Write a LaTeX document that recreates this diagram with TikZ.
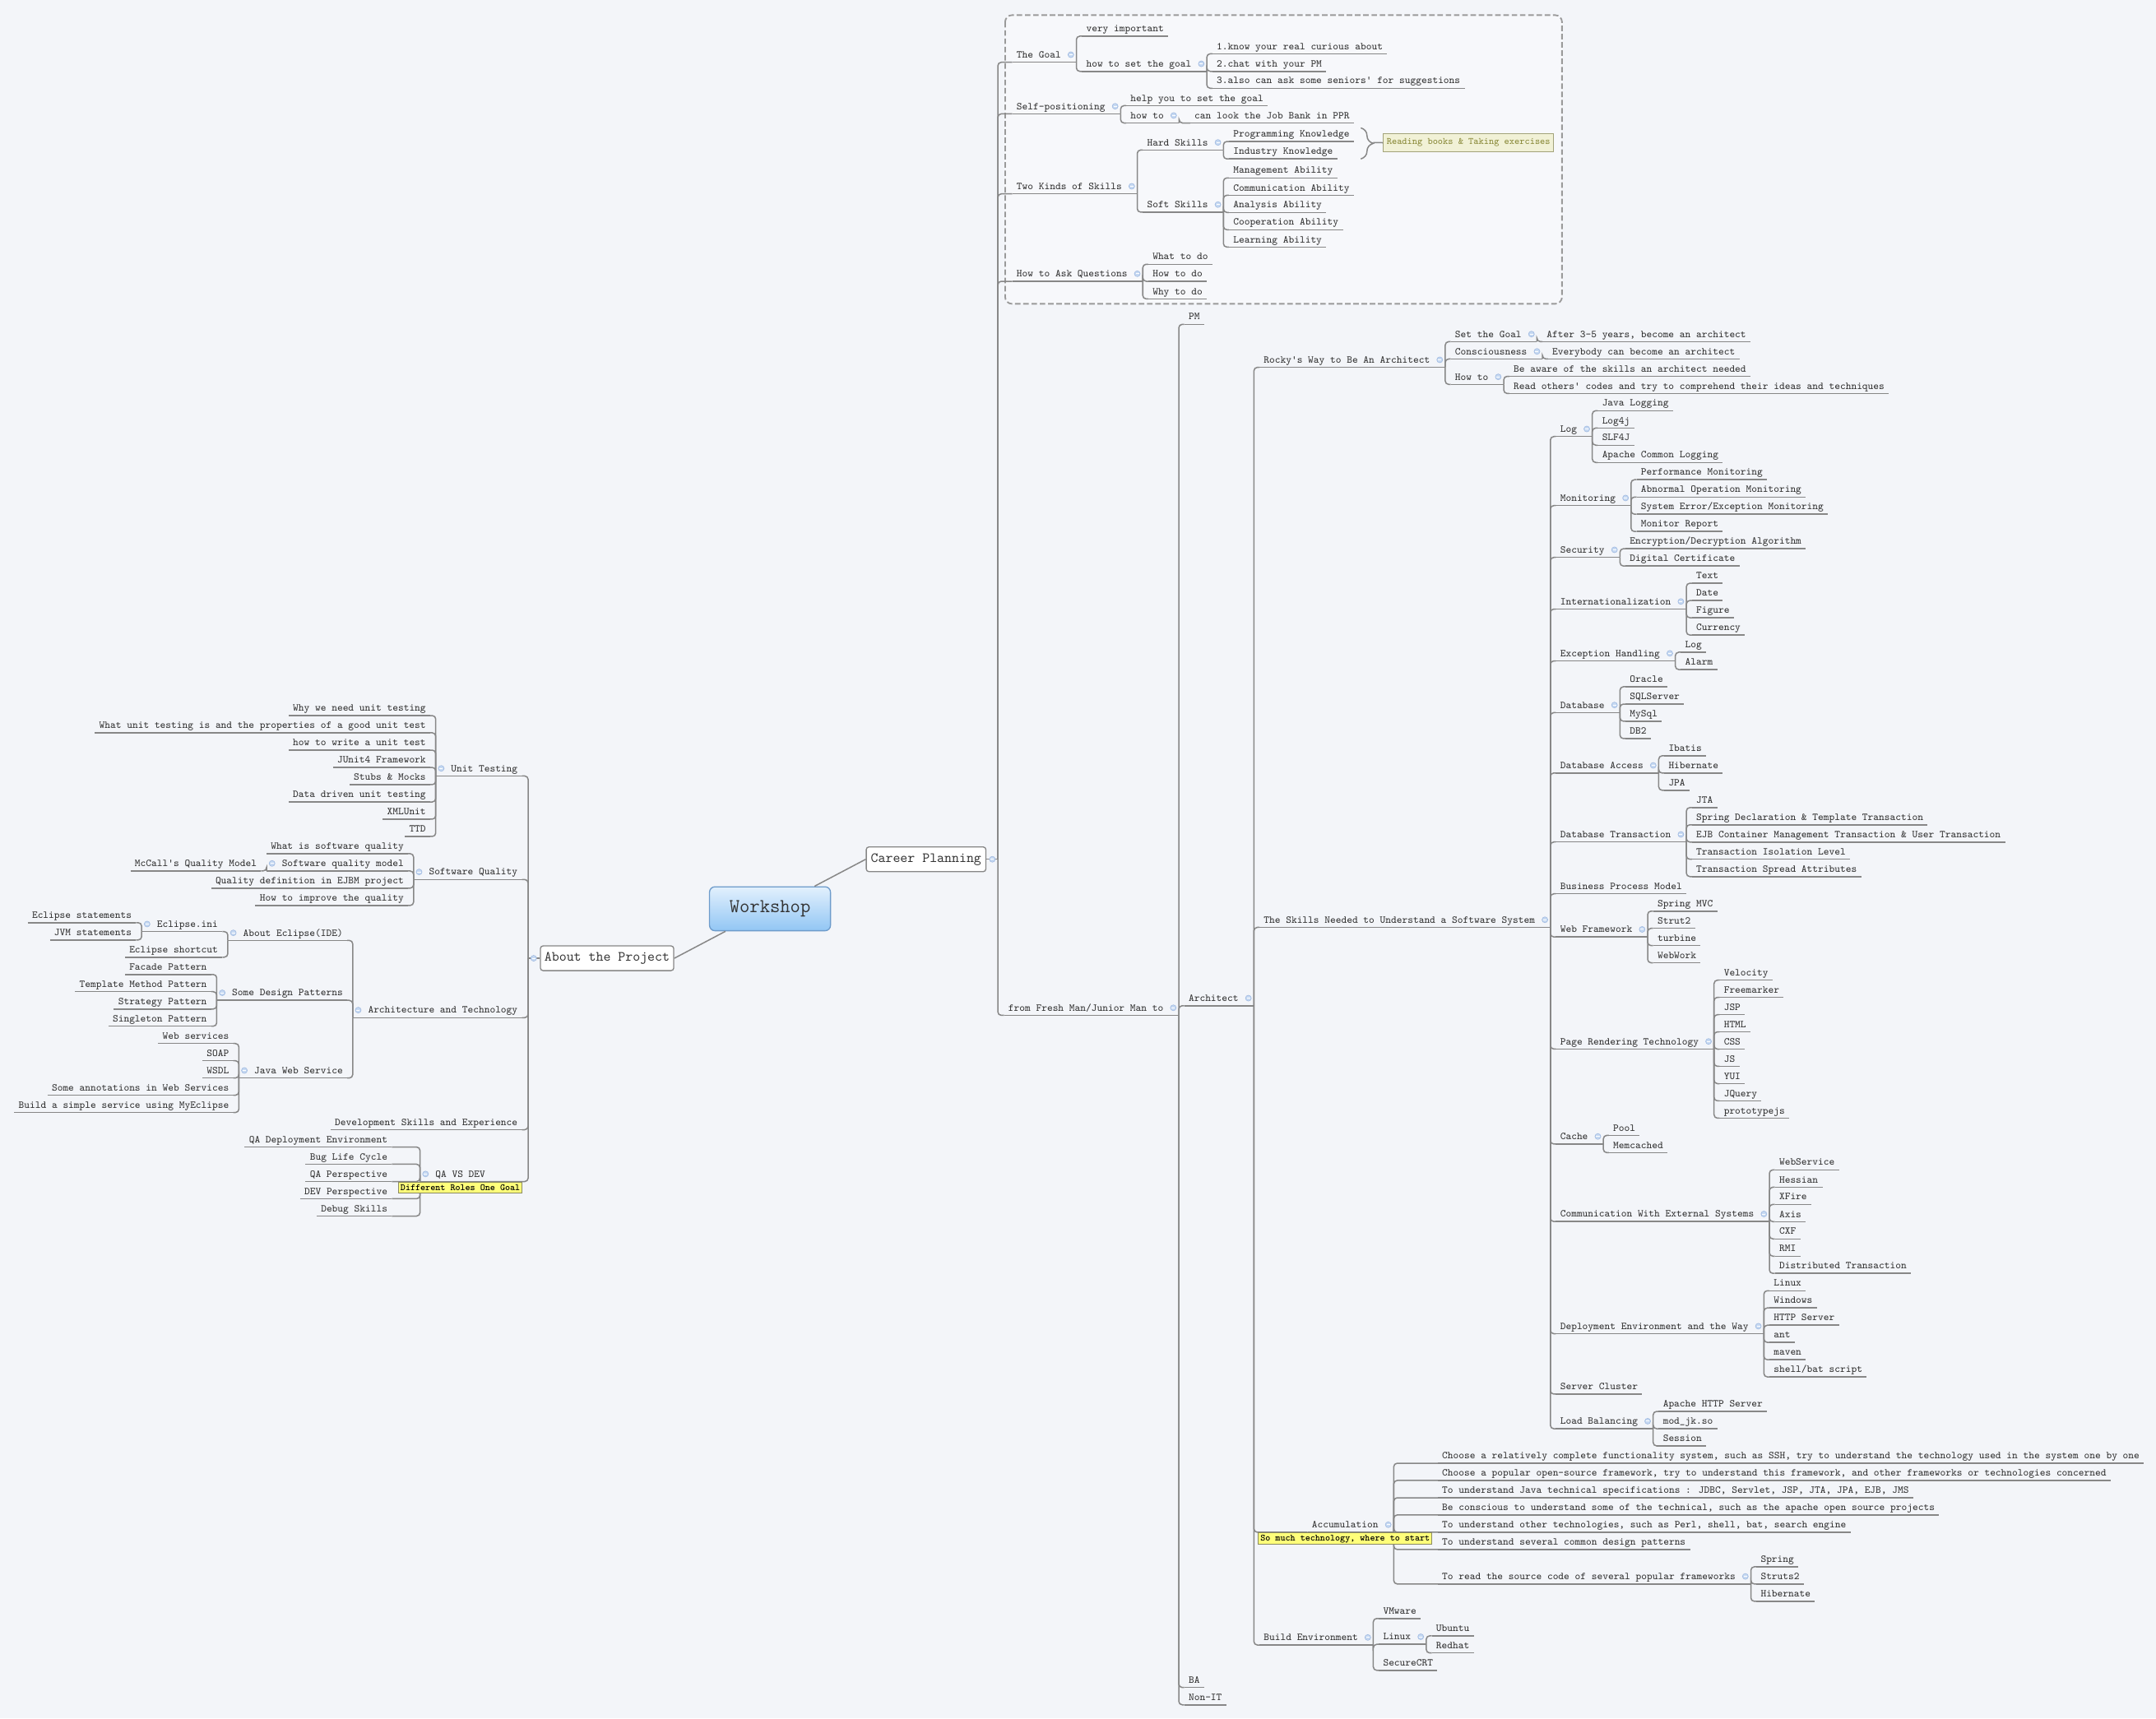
\documentclass[tikz,border=0pt]{standalone}
\usepackage{fontspec}
\usetikzlibrary{decorations.pathreplacing}

\definecolor{paper}{HTML}{F3F5F9}
\definecolor{ink}{HTML}{333333}
\definecolor{wire}{HTML}{878787}
\definecolor{knobfill}{HTML}{C6D9F2}
\definecolor{knobline}{HTML}{A3BCE2}
\definecolor{hubtop}{HTML}{E2F0FD}
\definecolor{hubbot}{HTML}{92C6F4}
\definecolor{hubline}{HTML}{6E9CCB}
\definecolor{zoneline}{HTML}{9A9A9A}
\definecolor{zonefill}{HTML}{F7F8FB}
\definecolor{hint}{HTML}{FFFF7A}
\definecolor{hintline}{HTML}{8A8A60}
\definecolor{notefill}{HTML}{F1F1D6}
\definecolor{noteline}{HTML}{A3A37A}
\definecolor{noteink}{HTML}{8A8A3A}

% fold marker and vertical bus of a parent
\newcommand{\foldR}[1]{%
  \coordinate (#1v) at ([xshift=8pt]#1.south east);
  \draw[link] (#1.south east) -- (#1v);
  \node[knob] (#1k) at ([xshift=4pt,yshift=5.5pt]#1.south east) {};}
\newcommand{\foldL}[1]{%
  \coordinate (#1v) at ([xshift=-8pt]#1.south west);
  \draw[link] (#1.south west) -- (#1v);
  \node[knob] (#1k) at ([xshift=-4pt,yshift=5.5pt]#1.south west) {};}
% children hanging on the bus
\newcommand{\kidsR}[3][4pt]{%
  \foreach \n/\y/\txt in {#3}{%
    \node[rt, xshift=#1] (\n) at (#2v |- 0,\y) {\txt};
    \draw[elbow] (#2v) |- (\n.south west);}}
\newcommand{\kidsL}[3][-4pt]{%
  \foreach \n/\y/\txt in {#3}{%
    \node[lt, xshift=#1] (\n) at (#2v |- 0,\y) {\txt};
    \draw[elbow] (#2v) |- (\n.south east);}}

\begin{document}
\begin{tikzpicture}[x=1pt, y=-1pt,
  link/.style={draw=wire, line width=0.9pt},
  elbow/.style={link, rounded corners=2.5pt},
  topic/.style={inner xsep=3pt, inner ysep=1.5pt, text height=5pt, text depth=1.5pt,
    text=ink, font=\fontsize{7.58}{9}\selectfont\ttfamily},
  rt/.style={topic, anchor=south west,
    append after command={(\tikzlastnode.south west) edge[link] (\tikzlastnode.south east)}},
  lt/.style={topic, anchor=south east,
    append after command={(\tikzlastnode.south west) edge[link] (\tikzlastnode.south east)}},
  knob/.style={circle, draw=knobline, fill=knobfill, line width=0.4pt, minimum size=4.2pt, inner sep=0pt,
    path picture={\draw[white, line width=0.6pt] ([xshift=-1.2pt]path picture bounding box.center)
      -- ([xshift=1.2pt]path picture bounding box.center);}},
  box/.style={draw=wire, fill=white, rounded corners=2pt, line width=0.8pt, minimum width=87pt,
    minimum height=18pt, inner sep=0pt, text=ink, font=\fontsize{10.2}{12}\selectfont\ttfamily},
  hub/.style={draw=hubline, top color=hubtop, bottom color=hubbot, rounded corners=4pt, line width=0.8pt,
    minimum width=88pt, minimum height=32pt, inner sep=0pt, text=ink, font=\fontsize{14.3}{16}\selectfont\ttfamily},
  tag/.style={draw=hintline, fill=hint, line width=0.5pt, inner xsep=1.5pt, inner ysep=1pt, text height=5pt,
    text depth=1.3pt, text=black, font=\fontsize{6.9}{8}\selectfont\ttfamily\bfseries},
  zone/.style={draw=zoneline, fill=zonefill, dash pattern=on 4pt off 2pt, line width=1.1pt, rounded corners=5pt},
  note/.style={draw=noteline, fill=notefill, line width=0.7pt, minimum width=124pt, minimum height=13.4pt,
    inner sep=0pt, text=noteink, font=\fontsize{7}{8}\selectfont\ttfamily}]

\fill[paper] (0,0) rectangle (1568,1250);
\useasboundingbox (0,0) rectangle (1568,1250);

% boundary round the first career topics
\draw[zone] (731,11) rectangle (1136,221);

% centre
\node[hub] (ws) at (560,661) {Workshop};
\node[box] (cp) at (673.5,625) {Career Planning};
\node[box, minimum width=97pt] (about) at (441.5,697) {About the Project};
\draw[link] ([xshift=-12pt]ws.north east) -- (cp.west);
\draw[link] ([xshift=12pt]ws.south west) -- (about.east);

%% ---------------- Career Planning ----------------
\coordinate (cpv) at ([xshift=8.3pt]cp.east);
\draw[link] (cp.east) -- (cpv);
\node[knob] (cpk) at ([xshift=4.3pt]cp.east) {};
\kidsR[10.5pt]{cp}{goal/45.3/The Goal, selfpos/82.8/Self-positioning,
  twokinds/141/Two Kinds of Skills, ask/204.6/How to Ask Questions}
\kidsR[4.5pt]{cp}{fresh/738.5/{from Fresh Man/Junior Man to}}

\foldR{goal}
\kidsR{goal}{vimp/26.3/very important, howset/51.9/how to set the goal}
\foldR{howset}
\kidsR{howset}{know/39.1/1.know your real curious about, chat/51.9/2.chat with your PM,
  seniors/64.2/3.also can ask some seniors' for suggestions}
\foldR{selfpos}
\kidsR{selfpos}{helpset/76.8/help you to set the goal, howto/89.5/how to}
\foldR{howto}
\kidsR[8pt]{howto}{jobbank/89.5/can look the Job Bank in PPR}
\foldR{twokinds}
\kidsR{twokinds}{hard/109.1/Hard Skills, soft/154.3/Soft Skills}
\foldR{hard}
\kidsR{hard}{progk/102.9/Programming Knowledge, indk/115.6/Industry Knowledge}
\foldR{soft}
\kidsR{soft}{mgmt/129.4/Management Ability, commab/142/Communication Ability,
  anal/154.5/Analysis Ability, coop/167.1/Cooperation Ability, learn/179.7/Learning Ability}
\foldR{ask}
\kidsR{ask}{whatdo/192.2/What to do, howdo/204.6/How to do, whydo/217.4/Why to do}

% summary of the hard skills
\draw[link, decorate, decoration={brace, amplitude=9pt}]
  ([xshift=5pt]progk.north east) -- ([xshift=5pt]progk.east |- indk.south);
\coordinate (brtip) at ([xshift=14pt,yshift=-0.8pt]progk.south east);
\node[note] (reading) at (1068,103.8) {Reading books \& Taking exercises};
\draw[link] (brtip) -- (reading.west);

%% ---------------- from Fresh Man ----------------
\foldR{fresh}
\kidsR{fresh}{pm/235.9/PM, arch/731.5/Architect, ba/1227.4/BA, nonit/1240/Non-IT}
\foldR{arch}
\kidsR{arch}{rocky/267.2/Rocky's Way to Be An Architect,
  skills/674.5/The Skills Needed to Understand a Software System,
  build/1196.5/Build Environment}
\kidsR[39pt]{arch}{accum/1114.5/Accumulation}

\foldR{rocky}
\kidsR{rocky}{setgoal/248.5/Set the Goal, consc/261.1/Consciousness, howto2/279.6/How to}
\foldR{setgoal}
\kidsR{setgoal}{after/248.5/{After 3-5 years, become an architect}}
\foldR{consc}
\kidsR{consc}{everybody/261.1/Everybody can become an architect}
\foldR{howto2}
\kidsR{howto2}{aware/273.7/Be aware of the skills an architect needed,
  readcode/286.2/Read others' codes and try to comprehend their ideas and techniques}

\foldR{skills}
\kidsR{skills}{log/317.5/Log, monit/367.7/Monitoring, secur/405.4/Security,
  intl/443/Internationalization, exch/480.7/Exception Handling, db/518.3/Database,
  dbacc/562.2/Database Access, dbtx/612.4/Database Transaction, bpm/650.1/Business Process Model,
  webfw/681.5/Web Framework, page/763/Page Rendering Technology, cache/832.1/Cache,
  comm/888.5/Communication With External Systems, deploy/970.1/Deployment Environment and the Way,
  cluster/1014/Server Cluster, lb/1039.2/Load Balancing}

\foldR{log}
\kidsR{log}{jlog/298.7/Java Logging, logfj/311.3/Log4j, slf/323.8/SLF4J, acl/336.4/Apache Common Logging}
\foldR{monit}
\kidsR{monit}{perf/348.9/Performance Monitoring, abn/361.5/Abnormal Operation Monitoring,
  syserr/374/{System Error/Exception Monitoring}, mrep/386.6/Monitor Report}
\foldR{secur}
\kidsR{secur}{enc/399.1/{Encryption/Decryption Algorithm}, cert/411.7/Digital Certificate}
\foldR{intl}
\kidsR{intl}{itext/424.2/Text, idate/436.8/Date, ifig/449.3/Figure, icur/461.9/Currency}
\foldR{exch}
\kidsR{exch}{exlog/474.4/Log, alarm/487/Alarm}
\foldR{db}
\kidsR{db}{oracle/499.5/Oracle, sqlsrv/512.1/SQLServer, mysql/524.6/MySql, dbtwo/537.2/DB2}
\foldR{dbacc}
\kidsR{dbacc}{ibatis/549.7/Ibatis, hib/562.3/Hibernate, jpa/574.8/JPA}
\foldR{dbtx}
\kidsR{dbtx}{jta/587.4/JTA, springtx/599.9/Spring Declaration \& Template Transaction,
  ejb/612.5/EJB Container Management Transaction \& User Transaction,
  iso/625/Transaction Isolation Level, spread/637.6/Transaction Spread Attributes}
\foldR{webfw}
\kidsR{webfw}{smvc/662.7/Spring MVC, strut/675.2/Strut2, turbine/687.8/turbine, webwork/700.3/WebWork}
\foldR{page}
\kidsR{page}{velocity/712.9/Velocity, freemarker/725.4/Freemarker, jsp/738/JSP, html/750.5/HTML,
  css/763.1/CSS, js/775.6/JS, yui/788.2/YUI, jquery/800.7/JQuery, proto/813.3/prototypejs}
\foldR{cache}
\kidsR{cache}{pool/825.8/Pool, memc/838.4/Memcached}
\foldR{comm}
\kidsR{comm}{websvc/850.9/WebService, hessian/863.5/Hessian, xfire/876/XFire, axis/888.6/Axis,
  cxf/901.1/CXF, rmi/913.7/RMI, dtx/926.2/Distributed Transaction}
\foldR{deploy}
\kidsR{deploy}{linuxd/938.8/Linux, windows/951.3/Windows, https/963.9/HTTP Server, ant/976.4/ant,
  maven/989/maven, shell/1001.5/{shell/bat script}}
\foldR{lb}
\kidsR{lb}{apache/1026.6/Apache HTTP Server, modjk/1039.2/mod\_jk.so, session/1051.7/Session}

\foldR{accum}
\kidsR[32pt]{accum}{choose/1064.3/{Choose a relatively complete functionality system, such as SSH, try to understand the technology used in the system one by one},
  popular/1076.8/{Choose a popular open-source framework, try to understand this framework, and other frameworks or technologies concerned},
  specs/1089.4/{To understand Java technical specifications : JDBC, Servlet, JSP, JTA, JPA, EJB, JMS},
  apachesrc/1101.9/{Be conscious to understand some of the technical, such as the apache open source projects},
  othertech/1114.5/{To understand other technologies, such as Perl, shell, bat, search engine},
  patterns/1127/To understand several common design patterns,
  readsrc/1152.1/To read the source code of several popular frameworks}
\node[tag, anchor=north] (muchtech) at (accum.south) {So much technology, where to start};
\foldR{readsrc}
\kidsR{readsrc}{spring/1139.6/Spring, struts/1152.1/Struts2, hibtwo/1164.7/Hibernate}

\foldR{build}
\kidsR{build}{vmware/1177.2/VMware, linux/1196/Linux, securecrt/1214.9/SecureCRT}
\foldR{linux}
\kidsR{linux}{ubuntu/1189.8/Ubuntu, redhat/1202.3/Redhat}

%% ---------------- About the Project ----------------
\coordinate (aboutv) at ([xshift=-8.5pt]about.west);
\draw[link] (about.west) -- (aboutv);
\node[knob] (aboutk) at ([xshift=-4.5pt]about.west) {};
\kidsL[-4.5pt]{about}{unit/564.4/Unit Testing, quality/639.7/Software Quality,
  archtech/740.2/Architecture and Technology, devskill/821.7/Development Skills and Experience}
\kidsL[-28pt]{about}{qadev/859.4/QA VS DEV}

\foldL{unit}
\kidsL{unit}{whyut/520.5/Why we need unit testing,
  whatut/533/What unit testing is and the properties of a good unit test,
  howut/545.6/how to write a unit test, junit/558.2/JUnit4 Framework, stubs/570.7/Stubs \& Mocks,
  datadriven/583.3/Data driven unit testing, xmlunit/595.8/XMLUnit, ttd/608.4/TTD}
\foldL{quality}
\kidsL{quality}{whatsq/620.9/What is software quality, sqmodel/633.5/Software quality model,
  qdef/646/Quality definition in EJBM project, improve/658.6/How to improve the quality}
\foldL{sqmodel}
\kidsL{sqmodel}{mccall/633.5/McCall's Quality Model}
\foldL{archtech}
\kidsL{archtech}{eclipse/684/About Eclipse(IDE), design/727.6/Some Design Patterns, jws/784.1/Java Web Service}
\foldL{eclipse}
\kidsL{eclipse}{eclini/677.6/Eclipse.ini, eshort/696.2/Eclipse shortcut}
\foldL{eclini}
\kidsL{eclini}{estate/671.1/Eclipse statements, jvm/683.7/JVM statements}
\foldL{design}
\kidsL{design}{facade/708.8/Facade Pattern, template/721.3/Template Method Pattern,
  strategy/733.9/Strategy Pattern, singleton/746.4/Singleton Pattern}
\foldL{jws}
\kidsL{jws}{websv/759/Web services, soap/771.5/SOAP, wsdl/784.1/WSDL,
  annot/796.6/Some annotations in Web Services, simple/809.2/Build a simple service using MyEclipse}
\foldL{qadev}
\kidsL[-20.5pt]{qadev}{qadeploy/834.3/QA Deployment Environment, buglife/846.8/Bug Life Cycle,
  qapers/859.4/QA Perspective, devpers/871.9/DEV Perspective, debug/884.5/Debug Skills}
\node[tag, anchor=north] (roles) at (qadev.south) {Different Roles One Goal};

\end{tikzpicture}
\end{document}
